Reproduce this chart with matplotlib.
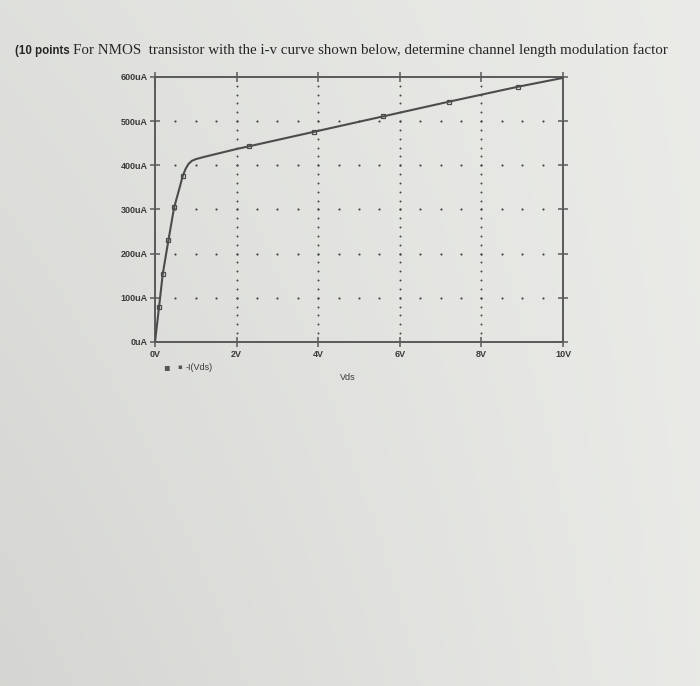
import numpy as np
import matplotlib
matplotlib.use("Agg")
import matplotlib.pyplot as plt

# ---- data ----
vds = [0.0, 0.10, 0.19, 0.33, 0.47, 0.59, 0.68, 0.75, 0.82, 0.90, 1.00, 1.20, 2.0, 2.3, 3.9, 5.6, 7.2, 8.9, 10.0]
ids = [0, 80, 154, 231, 305, 345, 376, 392, 403, 410, 414, 419, 437, 443, 476, 511, 544, 578, 598]
marker_idx = [1, 2, 3, 4, 6, 13, 14, 15, 16, 17]
xticks = [0, 2, 4, 6, 8, 10]
xtick_labels = ["0V", "2V", "4V", "6V", "8V", "10V"]
yticks = [0, 100, 200, 300, 400, 500, 600]
ytick_labels = ["0uA", "100uA", "200uA", "300uA", "400uA", "500uA", "600uA"]
series_name = "-I(Vds)"
x_label = "Vds"
title_bold = "(10 points"
title_rest = "For NMOS  transistor with the i-v curve shown below, determine channel length modulation factor"

W, H, DPI = 700, 686, 100
fig = plt.figure(figsize=(W / DPI, H / DPI), dpi=DPI)

# photographic paper background (soft gradient)
bg = fig.add_axes([0, 0, 1, 1])
yy, xx = np.mgrid[0:1:200j, 0:1:200j]
shade = 224 + 12 * xx - 10 * yy + 8 * xx * yy
shade = np.clip(shade, 200, 240) / 255.0
img = np.dstack([shade * 0.995, shade, shade * 0.985])
bg.imshow(img, extent=[0, 1, 0, 1], aspect="auto", origin="upper")
bg.set_axis_off()

# title
tc = "#262626"
fig.text(15 / W, 1 - 51 / H, title_bold, fontsize=8.3, fontweight="bold",
         family="Liberation Sans", color=tc, va="center", ha="left")
fig.text(73 / W, 1 - 50 / H, title_rest, fontsize=10.8, family="Liberation Serif",
         color=tc, va="center", ha="left")

# plot axes
x0, x1 = 155, 563
ytop, ybot = 77, 342
ax = fig.add_axes([x0 / W, 1 - ybot / H, (x1 - x0) / W, (ybot - ytop) / H])
ax.set_facecolor("none")
ax.set_xlim(0, 10)
ax.set_ylim(0, 600)

gc = "#444444"
# dotted grid (PSpice style)
for gx in [2, 4, 6, 8]:
    gy = np.arange(20, 600, 20)
    ax.scatter(np.full_like(gy, gx, dtype=float), gy, s=2.0, color=gc, lw=0, zorder=1)
for gyv in [100, 200, 300, 400, 500]:
    gxs = np.arange(0.5, 10, 0.5)
    ax.scatter(gxs, np.full_like(gxs, gyv), s=2.4, color=gc, lw=0, zorder=1)

lc = "#4c4c4c"
ax.plot(vds, ids, color=lc, lw=1.5, zorder=3, solid_joinstyle="round")
ax.plot([vds[i] for i in marker_idx], [ids[i] for i in marker_idx], ls="none",
        marker="s", ms=3.2, mfc="none", mec=lc, mew=0.9, zorder=4)

for s in ax.spines.values():
    s.set_color("#5a5a5a")
    s.set_linewidth(1.4)

ax.set_xticks(xticks)
ax.set_xticklabels(xtick_labels)
ax.set_yticks(yticks)
ax.set_yticklabels(ytick_labels)
ax.tick_params(direction="inout", length=7, width=1.1, color="#5a5a5a",
               top=True, right=True, labelsize=6.5, labelcolor="#3a3a3a", pad=2)
for lab in ax.get_xticklabels() + ax.get_yticklabels():
    lab.set_family("Liberation Sans")
    lab.set_fontweight("bold")

# x label and legend
fig.text(348 / W, 1 - 377 / H, x_label, fontsize=6.5, family="Liberation Sans",
         color="#3a3a3a", ha="center", va="center")
fig.text(166 / W, 1 - 367 / H, "\u25aa", fontsize=7, color="#555555",
         ha="center", va="center")
fig.text(180 / W, 1 - 367 / H, "\u25aa", fontsize=5, color="#555555",
         ha="center", va="center")
fig.text(186 / W, 1 - 367 / H, series_name, fontsize=6.5, family="Liberation Sans",
         color="#3a3a3a", ha="left", va="center")

fig.savefig("out.png", dpi=DPI)
